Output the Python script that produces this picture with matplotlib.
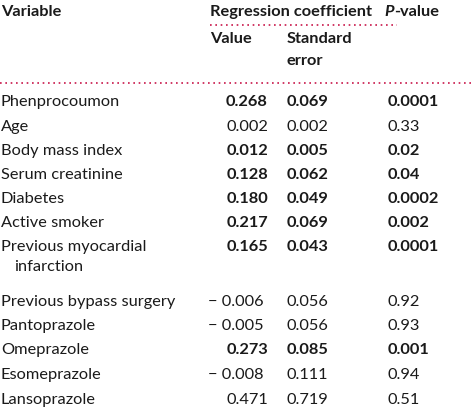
import matplotlib
matplotlib.use('Agg')
from matplotlib import pyplot as plt

plt.rcParams['font.family'] = ['Lato', 'DejaVu Sans']

variables = ['Phenprocoumon', 'Age', 'Body mass index', 'Serum creatinine', 'Diabetes',
             'Active smoker', 'Previous myocardial\n   infarction', 'Previous bypass surgery',
             'Pantoprazole', 'Omeprazole', 'Esomeprazole', 'Lansoprazole']
values = ['0.268', '0.002', '0.012', '0.128', '0.180', '0.217', '0.165',
          '\u22120.006', '\u22120.005', '0.273', '\u22120.008', '0.471']
std_errors = ['0.069', '0.002', '0.005', '0.062', '0.049', '0.069', '0.043',
              '0.056', '0.056', '0.085', '0.111', '0.719']
p_values = ['0.0001', '0.33', '0.02', '0.04', '0.0002', '0.002', '0.0001',
            '0.92', '0.93', '0.001', '0.94', '0.51']
significant = [True, False, True, True, True, True, True, False, False, True, False, False]

row_y = [102, 127, 151, 175, 199, 223, 247, 302, 326, 350, 375, 400]

fig = plt.figure(figsize=(4.74, 4.14), dpi=100)
ax = fig.add_axes([0, 0, 1, 1])
ax.set_xlim(0, 474)
ax.set_ylim(414, 0)
ax.axis('off')

fs = 11.8
dot = '#c8174a'
ink = '#1a1a1a'
ax.text(1, 12, 'Variable', fontsize=fs, fontweight='bold', va='center', color=ink)
ax.text(210, 12, 'Regression coefficient', fontsize=fs, fontweight='bold', va='center', color=ink)
ax.text(384, 12, 'P', fontsize=fs, fontweight='bold', fontstyle='italic', va='center', color=ink)
ax.text(394, 12, '-value', fontsize=fs, fontweight='bold', va='center', color=ink)
ax.plot([210, 397], [26, 26], ls=(0, (1, 2.2)), color=dot, lw=1.2)
ax.text(210, 39, 'Value', fontsize=fs, fontweight='bold', va='center', color=ink)
ax.text(287, 39, 'Standard', fontsize=fs, fontweight='bold', va='center', color=ink)
ax.text(287, 61, 'error', fontsize=fs, fontweight='bold', va='center', color=ink)
ax.plot([0, 474], [84, 84], ls=(0, (1, 2.2)), color=dot, lw=1.2)

for i, y in enumerate(row_y):
    w = 'bold' if significant[i] else 'normal'
    name = variables[i]
    if '\n' in name:
        first, second = name.split('\n')
        ax.text(1, y, first, fontsize=fs, va='center', color=ink)
        ax.text(14, y + 20, second.strip(), fontsize=fs, va='center', color=ink)
    else:
        ax.text(1, y, name, fontsize=fs, va='center', color=ink)
    if values[i].startswith('\u2212'):
        ax.text(208, y, '\u2212 ' + values[i][1:], fontsize=fs, va='center', fontweight=w, color=ink)
    else:
        ax.text(268, y, values[i], fontsize=fs, va='center', ha='right', fontweight=w, color=ink)
    ax.text(287, y, std_errors[i], fontsize=fs, va='center', fontweight=w, color=ink)
    ax.text(388, y, p_values[i], fontsize=fs, va='center', fontweight=w, color=ink)

fig.savefig('out.png', dpi=100)
